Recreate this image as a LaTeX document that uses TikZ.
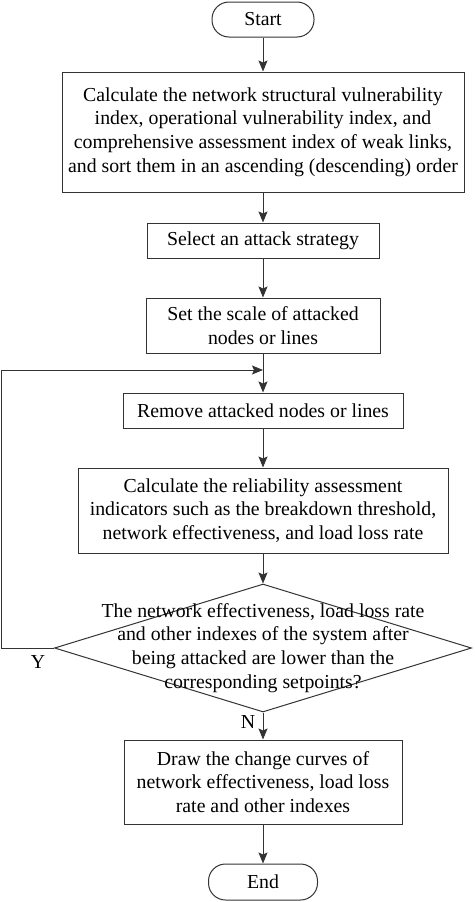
\documentclass[tikz,border=0pt]{standalone}
\usepackage{fontspec}
\setmainfont{Liberation Serif}
\usepackage{tikz}
\usetikzlibrary{arrows.meta,positioning,shapes.geometric}
\newcommand{\flowfont}{\fontsize{19.8}{23.8}\selectfont}

\begin{document}
\begin{tikzpicture}[
    x=1pt, y=1pt,
    >={Stealth[length=11pt,width=9pt,inset=2pt]},
    process/.style={
      rectangle, draw=black!80, line width=1pt, inner sep=0pt,
      align=center, font=\flowfont
    },
    terminal/.style={
      process, rounded corners=17pt, minimum height=35pt
    },
    decision/.style={
      diamond, draw=black!80, line width=1pt, inner sep=0pt,
      minimum width=417pt, minimum height=128pt
    },
    flow/.style={->, line width=1pt, black!80},
    lbl/.style={font=\flowfont, inner sep=0pt}
  ]
  \useasboundingbox (0,0) rectangle (474,-902);

  \node[terminal, minimum width=102pt] (start) at (263,-19.5) {Start};
  \node[process, minimum width=402pt, minimum height=120pt] (calc) at (263,-132)
    {Calculate the network structural vulnerability\\
     index, operational vulnerability index, and\\
     comprehensive assessment index of weak links,\\
     and sort them in an ascending (descending) order};
  \node[process, minimum width=232pt, minimum height=35pt] (select) at (263,-240.5)
    {Select an attack strategy};
  \node[process, minimum width=234pt, minimum height=55pt] (scale) at (263,-325.5)
    {Set the scale of attacked\\nodes or lines};
  \node[process, minimum width=280pt, minimum height=35pt] (remove) at (263,-410.5)
    {Remove attacked nodes or lines};
  \node[process, minimum width=370pt, minimum height=85pt] (indic) at (263,-510.5)
    {Calculate the reliability assessment\\
     indicators such as the breakdown threshold,\\
     network effectiveness, and load loss rate};
  \node[decision] (judge) at (263,-648) {};
  \node[lbl, align=center] (judgetext) at (judge.center)
    {The network effectiveness, load loss rate\\
     and other indexes of the system after\\
     being attacked are lower than the\\
     corresponding setpoints?};
  \node[process, minimum width=278pt, minimum height=84pt] (curves) at (263,-782)
    {Draw the change curves of\\
     network effectiveness, load loss\\
     rate and other indexes};
  \node[terminal, minimum width=109pt, minimum height=36pt] (end) at (263,-882) {End};

  \coordinate (merge) at (263,-370);

  \draw[flow] (start) -- (calc);
  \draw[flow] (calc) -- (select);
  \draw[flow] (select) -- (scale);
  \draw[flow] (scale) -- (remove);
  \draw[flow] (remove) -- (indic);
  \draw[flow] (indic) -- (judge);
  \draw[flow] (judge.west) -- ++(-53,0) |- (merge);
  \draw[flow] (judge.south) -- (curves);
  \draw[flow] (curves) -- (end);

  \node[lbl] (yes) at (38,-662) {Y};
  \node[lbl] (no) at (248,-722) {N};
\end{tikzpicture}
\end{document}
